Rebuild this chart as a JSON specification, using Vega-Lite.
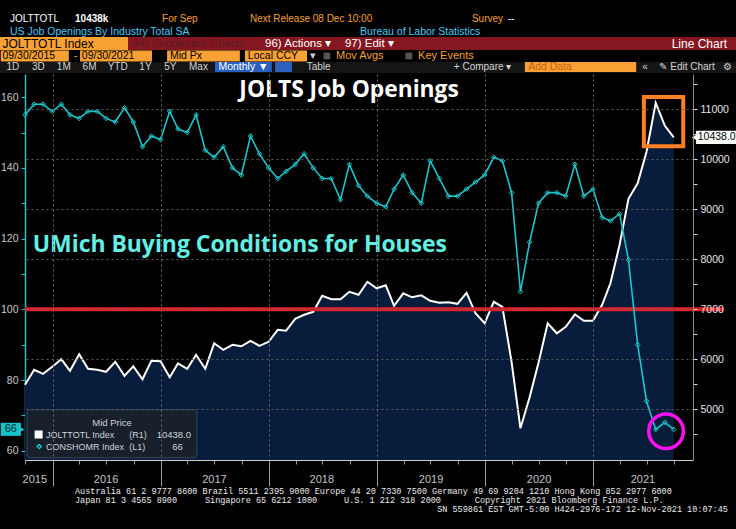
{
  "$schema": "https://vega.github.io/schema/vega-lite/v6.json",
  "width": 668,
  "height": 386,
  "autosize": {"type": "none"},
  "padding": {"left": 25, "top": 74, "right": 43, "bottom": 69},
  "background": "#000000",
  "config": {"view": {"stroke": null}, "text": {"font": "Liberation Sans"}},
  "datasets": {
    "series": [
      {"date": "2015-09-30", "umich": 155, "jolts": 5490},
      {"date": "2015-10-31", "umich": 158, "jolts": 5790},
      {"date": "2015-11-30", "umich": 158, "jolts": 5710},
      {"date": "2015-12-31", "umich": 156, "jolts": 5850},
      {"date": "2016-01-31", "umich": 158, "jolts": 6000},
      {"date": "2016-02-29", "umich": 155, "jolts": 5770},
      {"date": "2016-03-31", "umich": 154, "jolts": 6100},
      {"date": "2016-04-30", "umich": 156, "jolts": 5810},
      {"date": "2016-05-31", "umich": 156, "jolts": 5790},
      {"date": "2016-06-30", "umich": 154, "jolts": 5750},
      {"date": "2016-07-31", "umich": 153, "jolts": 5950},
      {"date": "2016-08-31", "umich": 157, "jolts": 5670},
      {"date": "2016-09-30", "umich": 153, "jolts": 5860},
      {"date": "2016-10-31", "umich": 146, "jolts": 5600},
      {"date": "2016-11-30", "umich": 149, "jolts": 5970},
      {"date": "2016-12-31", "umich": 148, "jolts": 5960},
      {"date": "2017-01-31", "umich": 156, "jolts": 5640},
      {"date": "2017-02-28", "umich": 151, "jolts": 5920},
      {"date": "2017-03-31", "umich": 150, "jolts": 5810},
      {"date": "2017-04-30", "umich": 155, "jolts": 6090},
      {"date": "2017-05-31", "umich": 145, "jolts": 5810},
      {"date": "2017-06-30", "umich": 143, "jolts": 6320},
      {"date": "2017-07-31", "umich": 146, "jolts": 6190},
      {"date": "2017-08-31", "umich": 140, "jolts": 6290},
      {"date": "2017-09-30", "umich": 138, "jolts": 6260},
      {"date": "2017-10-31", "umich": 149, "jolts": 6370},
      {"date": "2017-11-30", "umich": 144, "jolts": 6270},
      {"date": "2017-12-31", "umich": 140, "jolts": 6350},
      {"date": "2018-01-31", "umich": 137, "jolts": 6590},
      {"date": "2018-02-28", "umich": 139, "jolts": 6570},
      {"date": "2018-03-31", "umich": 141, "jolts": 6810},
      {"date": "2018-04-30", "umich": 144, "jolts": 6890},
      {"date": "2018-05-31", "umich": 140, "jolts": 6950},
      {"date": "2018-06-30", "umich": 137, "jolts": 7270},
      {"date": "2018-07-31", "umich": 137, "jolts": 7200},
      {"date": "2018-08-31", "umich": 131, "jolts": 7200},
      {"date": "2018-09-30", "umich": 141, "jolts": 7350},
      {"date": "2018-10-31", "umich": 135, "jolts": 7290},
      {"date": "2018-11-30", "umich": 132, "jolts": 7550},
      {"date": "2018-12-31", "umich": 130, "jolts": 7420},
      {"date": "2019-01-31", "umich": 129, "jolts": 7480},
      {"date": "2019-02-28", "umich": 134, "jolts": 7070},
      {"date": "2019-03-31", "umich": 138, "jolts": 7320},
      {"date": "2019-04-30", "umich": 133, "jolts": 7240},
      {"date": "2019-05-31", "umich": 130, "jolts": 7280},
      {"date": "2019-06-30", "umich": 142, "jolts": 7170},
      {"date": "2019-07-31", "umich": 137, "jolts": 7130},
      {"date": "2019-08-31", "umich": 132, "jolts": 7140},
      {"date": "2019-09-30", "umich": 132, "jolts": 7110},
      {"date": "2019-10-31", "umich": 134, "jolts": 7330},
      {"date": "2019-11-30", "umich": 136, "jolts": 6920},
      {"date": "2019-12-31", "umich": 138, "jolts": 6720},
      {"date": "2020-01-31", "umich": 143, "jolts": 7150},
      {"date": "2020-02-29", "umich": 142, "jolts": 7050},
      {"date": "2020-03-31", "umich": 133, "jolts": 5950},
      {"date": "2020-04-30", "umich": 105, "jolts": 4620},
      {"date": "2020-05-31", "umich": 119, "jolts": 5240},
      {"date": "2020-06-30", "umich": 130, "jolts": 5930},
      {"date": "2020-07-31", "umich": 133, "jolts": 6720},
      {"date": "2020-08-31", "umich": 133, "jolts": 6520},
      {"date": "2020-09-30", "umich": 132, "jolts": 6650},
      {"date": "2020-10-31", "umich": 141, "jolts": 6900},
      {"date": "2020-11-30", "umich": 132, "jolts": 6770},
      {"date": "2020-12-31", "umich": 134, "jolts": 6770},
      {"date": "2021-01-31", "umich": 126, "jolts": 7090},
      {"date": "2021-02-28", "umich": 125, "jolts": 7520},
      {"date": "2021-03-31", "umich": 127, "jolts": 8290},
      {"date": "2021-04-30", "umich": 114, "jolts": 9210},
      {"date": "2021-05-31", "umich": 90, "jolts": 9520},
      {"date": "2021-06-30", "umich": 74, "jolts": 10150},
      {"date": "2021-07-31", "umich": 66, "jolts": 11130},
      {"date": "2021-08-31", "umich": 68, "jolts": 10670},
      {"date": "2021-09-30", "umich": 66, "jolts": 10438}
    ]
  },
  "encoding": {
    "x": {
      "field": "date",
      "type": "temporal",
      "title": null,
      "scale": {
        "type": "utc",
        "domain": [
          {"year": 2015, "month": 9, "date": 30, "utc": true},
          {"year": 2021, "month": 12, "date": 4, "utc": true}
        ]
      },
      "axis": {
        "orient": "bottom",
        "values": [
          {"year": 2015, "month": 10, "date": 1, "utc": true},
          {"year": 2016, "month": 1, "date": 1, "utc": true},
          {"year": 2016, "month": 4, "date": 1, "utc": true},
          {"year": 2016, "month": 7, "date": 1, "utc": true},
          {"year": 2016, "month": 10, "date": 1, "utc": true},
          {"year": 2017, "month": 1, "date": 1, "utc": true},
          {"year": 2017, "month": 4, "date": 1, "utc": true},
          {"year": 2017, "month": 7, "date": 1, "utc": true},
          {"year": 2017, "month": 10, "date": 1, "utc": true},
          {"year": 2018, "month": 1, "date": 1, "utc": true},
          {"year": 2018, "month": 4, "date": 1, "utc": true},
          {"year": 2018, "month": 7, "date": 1, "utc": true},
          {"year": 2018, "month": 10, "date": 1, "utc": true},
          {"year": 2019, "month": 1, "date": 1, "utc": true},
          {"year": 2019, "month": 4, "date": 1, "utc": true},
          {"year": 2019, "month": 7, "date": 1, "utc": true},
          {"year": 2019, "month": 10, "date": 1, "utc": true},
          {"year": 2020, "month": 1, "date": 1, "utc": true},
          {"year": 2020, "month": 4, "date": 1, "utc": true},
          {"year": 2020, "month": 7, "date": 1, "utc": true},
          {"year": 2020, "month": 10, "date": 1, "utc": true},
          {"year": 2021, "month": 1, "date": 1, "utc": true},
          {"year": 2021, "month": 4, "date": 1, "utc": true},
          {"year": 2021, "month": 7, "date": 1, "utc": true},
          {"year": 2021, "month": 10, "date": 1, "utc": true}
        ],
        "labels": false,
        "domainColor": "#cfcfcf",
        "domainWidth": 1,
        "tickColor": "#9a9a9a",
        "tickSize": {"condition": {"test": "utcmonth(datum.value) == 0", "value": 26}, "value": 4},
        "grid": true,
        "gridColor": "#6a6a6a",
        "gridDash": [2, 3],
        "gridOpacity": {"condition": {"test": "utcmonth(datum.value) == 0", "value": 1}, "value": 0},
        "zindex": 1
      }
    }
  },
  "layer": [
    {
      "encoding": {
        "y": {
          "field": "jolts",
          "type": "quantitative",
          "title": null,
          "scale": {"domain": [3986, 11706]},
          "axis": {
            "orient": "right",
            "values": [4500, 5000, 5500, 6000, 6500, 7000, 7500, 8000, 8500, 9000, 9500, 10000, 10500, 11000, 11500],
            "format": "d",
            "labelExpr": "datum.value % 1000 == 0 ? datum.label : ''",
            "domainColor": "#8c8c8c",
            "tickColor": "#d8d8d8",
            "tickSize": 4,
            "labelColor": "#e6e6e6",
            "labelFont": "Liberation Sans",
            "labelFontSize": 10.5,
            "labelPadding": 3,
            "grid": true,
            "gridColor": "#5c5c5c",
            "gridDash": [2, 3],
            "gridOpacity": {"condition": {"test": "datum.value % 1000 == 0", "value": 1}, "value": 0},
            "zindex": 1
          }
        }
      },
      "layer": [
        {
          "data": {"name": "series"},
          "mark": {"type": "area", "color": "#081d3b", "opacity": 1},
          "encoding": {"y2": {"datum": 3986}}
        },
        {
          "data": {"name": "series"},
          "mark": {"type": "line", "color": "#ffffff", "strokeWidth": 2}
        },
        {
          "data": {"values": [{"date": "2021-06-21", "date2": "2021-11-01", "jolts": 10260, "jolts2": 11246}]},
          "mark": {"type": "rect", "fillOpacity": 0, "stroke": "#ff7f24", "strokeWidth": 4},
          "encoding": {"x2": {"field": "date2"}, "y2": {"field": "jolts2"}}
        },
        {
          "data": {"values": [{"date": "2021-12-14", "date2": "2022-05-02", "jolts": 10306, "jolts2": 10570}]},
          "mark": {"type": "rect", "color": "#ffffff"},
          "encoding": {"x2": {"field": "date2"}, "y2": {"field": "jolts2"}}
        },
        {
          "data": {"values": [{"date": "2021-12-09", "jolts": 10438}]},
          "mark": {"type": "point", "shape": "triangle-left", "filled": true, "color": "#ffffff", "size": 40, "opacity": 1}
        },
        {
          "data": {"values": [{"date": "2021-12-20", "jolts": 10438, "label": "10438.0"}]},
          "mark": {"type": "text", "align": "left", "baseline": "middle", "color": "#000000", "fontSize": 10.5},
          "encoding": {"text": {"field": "label"}}
        },
        {
          "data": {"values": [{"date": "2018-09-29", "jolts": 11250, "label": "JOLTS Job Openings"}]},
          "mark": {"type": "text", "align": "center", "baseline": "alphabetic", "color": "#ffffff", "font": "Open Sans", "fontWeight": "bold", "fontSize": 22.8},
          "encoding": {"text": {"field": "label"}}
        },
        {
          "data": {"values": [
            {"date": "2015-07-04", "date2": "2022-05-02", "jolts": 11946, "jolts2": 11726}
          ]},
          "mark": {"type": "rect", "color": "#151515"},
          "encoding": {"x2": {"field": "date2"}, "y2": {"field": "jolts2"}}
        },
        {
          "data": {"values": [
            {"date": "2015-07-04", "date2": "2022-05-02", "jolts": 12446, "jolts2": 12186}
          ]},
          "mark": {"type": "rect", "color": "#851720"},
          "encoding": {"x2": {"field": "date2"}, "y2": {"field": "jolts2"}}
        },
        {
          "data": {"values": [
            {"date": "2015-07-06", "date2": "2016-09-12", "jolts": 12446, "jolts2": 12186},
            {"date": "2015-07-10", "date2": "2016-02-25", "jolts": 12176, "jolts2": 11956},
            {"date": "2016-04-03", "date2": "2016-12-02", "jolts": 12176, "jolts2": 11956},
            {"date": "2017-01-22", "date2": "2017-09-25", "jolts": 12176, "jolts2": 11956},
            {"date": "2017-10-12", "date2": "2018-05-10", "jolts": 12176, "jolts2": 11956},
            {"date": "2020-05-15", "date2": "2021-05-26", "jolts": 11946, "jolts2": 11746}
          ]},
          "mark": {"type": "rect", "color": "#f7a034"},
          "encoding": {"x2": {"field": "date2"}, "y2": {"field": "jolts2"}}
        },
        {
          "data": {"values": [
            {"date": "2017-07-03", "date2": "2018-01-11", "jolts": 11946, "jolts2": 11746},
            {"date": "2018-01-22", "date2": "2018-03-20", "jolts": 11946, "jolts2": 11746}
          ]},
          "mark": {"type": "rect", "color": "#2b5fc0"},
          "encoding": {"x2": {"field": "date2"}, "y2": {"field": "jolts2"}}
        },
        {
          "data": {"values": [
            {"date": "2018-07-16", "jolts": 12066},
            {"date": "2019-04-19", "jolts": 12066}
          ]},
          "mark": {"type": "point", "shape": "square", "filled": true, "color": "#555555", "size": 45, "opacity": 1}
        },
        {
          "data": {"values": [
            {"date": "2015-08-10", "jolts": 12816, "label": "JOLTTOTL"},
            {"date": "2020-03-18", "jolts": 12816, "label": "--"}
          ]},
          "mark": {"type": "text", "align": "left", "baseline": "middle", "color": "#ffffff", "fontSize": 10},
          "encoding": {"text": {"field": "label"}}
        },
        {
          "data": {"values": [
            {"date": "2016-03-17", "jolts": 12816, "label": "10438k"}
          ]},
          "mark": {"type": "text", "align": "left", "baseline": "middle", "color": "#ffffff", "fontSize": 10, "fontWeight": "bold"},
          "encoding": {"text": {"field": "label"}}
        },
        {
          "data": {"values": [
            {"date": "2017-01-05", "jolts": 12816, "label": "For Sep"},
            {"date": "2017-10-29", "jolts": 12816, "label": "Next Release 08 Dec 10:00"},
            {"date": "2019-11-18", "jolts": 12816, "label": "Survey"}
          ]},
          "mark": {"type": "text", "align": "left", "baseline": "middle", "color": "#f7a030", "fontSize": 10},
          "encoding": {"text": {"field": "label"}}
        },
        {
          "data": {"values": [
            {"date": "2015-08-10", "jolts": 12546, "label": "US Job Openings By Industry Total SA"},
            {"date": "2018-11-05", "jolts": 12546, "label": "Bureau of Labor Statistics"}
          ]},
          "mark": {"type": "text", "align": "left", "baseline": "middle", "color": "#4ec8f4", "fontSize": 10.5},
          "encoding": {"text": {"field": "label"}}
        },
        {
          "data": {"values": [
            {"date": "2015-07-16", "jolts": 12316, "label": "JOLTTOTL Index"}
          ]},
          "mark": {"type": "text", "align": "left", "baseline": "middle", "color": "#000000", "fontSize": 12},
          "encoding": {"text": {"field": "label"}}
        },
        {
          "data": {"values": [
            {"date": "2016-09-25", "jolts": 12316, "label": "94) Suggested Charts"}
          ]},
          "mark": {"type": "text", "align": "left", "baseline": "middle", "color": "#5a1a22", "fontSize": 11.5},
          "encoding": {"text": {"field": "label"}}
        },
        {
          "data": {"values": [
            {"date": "2017-12-19", "jolts": 12316, "label": "96) Actions ▾"},
            {"date": "2018-09-15", "jolts": 12316, "label": "97) Edit ▾"}
          ]},
          "mark": {"type": "text", "align": "left", "baseline": "middle", "color": "#ffffff", "fontSize": 11.5},
          "encoding": {"text": {"field": "label"}}
        },
        {
          "data": {"values": [
            {"date": "2022-03-29", "jolts": 12316, "label": "Line Chart"}
          ]},
          "mark": {"type": "text", "align": "right", "baseline": "middle", "color": "#ffffff", "fontSize": 12},
          "encoding": {"text": {"field": "label"}}
        },
        {
          "data": {"values": [
            {"date": "2015-07-16", "jolts": 12060, "label": "09/30/2015"},
            {"date": "2016-04-09", "jolts": 12060, "label": "09/30/2021"},
            {"date": "2017-02-01", "jolts": 12060, "label": "Mid Px"},
            {"date": "2017-10-22", "jolts": 12060, "label": "Local CCY"}
          ]},
          "mark": {"type": "text", "align": "left", "baseline": "middle", "color": "#000000", "fontSize": 10.5},
          "encoding": {"text": {"field": "label"}}
        },
        {
          "data": {"values": [
            {"date": "2016-03-13", "jolts": 12060, "label": "-"},
            {"date": "2018-08-16", "jolts": 12060, "label": "Mov Avgs"},
            {"date": "2019-05-20", "jolts": 12060, "label": "Key Events"}
          ]},
          "mark": {"type": "text", "align": "left", "baseline": "middle", "color": "#f7a030", "fontSize": 11},
          "encoding": {"text": {"field": "label"}}
        },
        {
          "data": {"values": [
            {"date": "2018-05-20", "jolts": 12060, "label": "▾"}
          ]},
          "mark": {"type": "text", "align": "left", "baseline": "middle", "color": "#cccccc", "fontSize": 10.5},
          "encoding": {"text": {"field": "label"}}
        },
        {
          "data": {"values": [
            {"date": "2015-08-20", "jolts": 11840, "label": "1D"},
            {"date": "2015-11-14", "jolts": 11840, "label": "3D"},
            {"date": "2016-02-08", "jolts": 11840, "label": "1M"},
            {"date": "2016-05-05", "jolts": 11840, "label": "6M"},
            {"date": "2016-08-08", "jolts": 11840, "label": "YTD"},
            {"date": "2016-11-10", "jolts": 11840, "label": "1Y"},
            {"date": "2017-02-02", "jolts": 11840, "label": "5Y"},
            {"date": "2017-05-08", "jolts": 11840, "label": "Max"},
            {"date": "2018-06-18", "jolts": 11840, "label": "Table"},
            {"date": "2019-12-24", "jolts": 11840, "label": "+ Compare ▾"},
            {"date": "2021-06-25", "jolts": 11840, "label": "«"},
            {"date": "2021-11-14", "jolts": 11840, "label": "✎ Edit Chart"},
            {"date": "2022-04-01", "jolts": 11840, "label": "⚙"}
          ]},
          "mark": {"type": "text", "align": "center", "baseline": "middle", "color": "#d4d4d4", "fontSize": 10},
          "encoding": {"text": {"field": "label"}}
        },
        {
          "data": {"values": [
            {"date": "2017-10-07", "jolts": 11840, "label": "Monthly ▼"}
          ]},
          "mark": {"type": "text", "align": "center", "baseline": "middle", "color": "#ffffff", "fontSize": 10.5},
          "encoding": {"text": {"field": "label"}}
        },
        {
          "data": {"values": [
            {"date": "2020-05-26", "jolts": 11840, "label": "Add Data"}
          ]},
          "mark": {"type": "text", "align": "left", "baseline": "middle", "color": "#c8620e", "fontSize": 10.5},
          "encoding": {"text": {"field": "label"}}
        },
        {
          "data": {"values": [
            {"date": "2015-11-02", "jolts": 3586, "label": "2015"},
            {"date": "2016-06-30", "jolts": 3586, "label": "2016"},
            {"date": "2017-07-01", "jolts": 3586, "label": "2017"},
            {"date": "2018-06-29", "jolts": 3586, "label": "2018"},
            {"date": "2019-07-03", "jolts": 3586, "label": "2019"},
            {"date": "2020-07-02", "jolts": 3586, "label": "2020"},
            {"date": "2021-06-18", "jolts": 3586, "label": "2021"}
          ]},
          "mark": {"type": "text", "align": "center", "baseline": "middle", "color": "#c4c4c4", "fontSize": 11},
          "encoding": {"text": {"field": "label"}}
        },
        {
          "data": {"values": [
            {"date": "2016-03-17", "jolts": 3366, "label": "Australia 61 2 9777 8600 Brazil 5511 2395 9000 Europe 44 20 7330 7500 Germany 49 69 9204 1210 Hong Kong 852 2977 6000"},
            {"date": "2016-03-17", "jolts": 3186, "label": "Japan 81 3 4565 8900"},
            {"date": "2017-05-30", "jolts": 3186, "label": "Singapore 65 6212 1000"},
            {"date": "2018-09-12", "jolts": 3186, "label": "U.S. 1 212 318 2000"},
            {"date": "2019-11-28", "jolts": 3186, "label": "Copyright 2021 Bloomberg Finance L.P."}
          ]},
          "mark": {"type": "text", "align": "left", "baseline": "middle", "color": "#ececec", "font": "Liberation Mono", "fontSize": 8.5},
          "encoding": {"text": {"field": "label"}}
        },
        {
          "data": {"values": [
            {"date": "2022-04-01", "jolts": 3016, "label": "SN 559861 EST  GMT-5:00 H424-2976-172 12-Nov-2021 10:07:45"}
          ]},
          "mark": {"type": "text", "align": "right", "baseline": "middle", "color": "#ececec", "font": "Liberation Mono", "fontSize": 8.5},
          "encoding": {"text": {"field": "label"}}
        }
      ]
    },
    {
      "encoding": {
        "y": {
          "field": "umich",
          "type": "quantitative",
          "title": null,
          "scale": {"domain": [57.37, 166.56]},
          "axis": {
            "orient": "left",
            "values": [60, 70, 80, 90, 100, 110, 120, 130, 140, 150, 160],
            "labelExpr": "datum.value % 20 == 0 ? datum.label : ''",
            "domainColor": "#19c3cb",
            "domainWidth": 1.5,
            "tickColor": "#19c3cb",
            "tickSize": 4,
            "labelColor": "#c8c8c8",
            "labelFont": "Liberation Sans",
            "labelFontSize": 10.5,
            "labelPadding": 3,
            "grid": false
          }
        }
      },
      "layer": [
        {
          "data": {"values": [{"date": "2015-10-07", "date2": "2017-05-03", "umich": 58.0, "umich2": 71.6}]},
          "mark": {"type": "rect", "fill": "#18202c", "stroke": "#3b4655", "strokeWidth": 1, "cornerRadius": 3},
          "encoding": {"x2": {"field": "date2"}, "y2": {"field": "umich2"}}
        },
        {
          "data": {"values": [{"date": "2015-09-30", "date2": "2022-03-16", "umich": 100}]},
          "mark": {"type": "rule", "color": "#e3212b", "strokeWidth": 4},
          "encoding": {"x2": {"field": "date2"}}
        },
        {
          "data": {"name": "series"},
          "mark": {"type": "line", "color": "#1cc6cc", "strokeWidth": 1.6, "point": {"shape": "diamond", "filled": false, "size": 22, "strokeWidth": 1, "color": "#1cc6cc"}}
        },
        {
          "data": {"values": [{"date": "2021-09-04", "umich": 65.5}]},
          "mark": {"type": "point", "shape": "circle", "filled": false, "color": "#ff10f0", "strokeWidth": 3.5, "size": 1200, "opacity": 1}
        },
        {
          "data": {"values": [{"date": "2017-09-25", "umich": 116.1, "label": "UMich Buying Conditions for Houses"}]},
          "mark": {"type": "text", "align": "center", "baseline": "alphabetic", "color": "#62f0e4", "font": "Open Sans", "fontWeight": "bold", "fontSize": 22.9},
          "encoding": {"text": {"field": "label"}}
        },
        {
          "data": {"values": [{"date": "2016-07-20", "umich": 67.8, "label": "Mid Price"}]},
          "mark": {"type": "text", "align": "center", "baseline": "middle", "color": "#cfd3d8", "fontSize": 9.5},
          "encoding": {"text": {"field": "label"}}
        },
        {
          "data": {"values": [
            {"date": "2015-12-10", "umich": 64.45, "label": "JOLTTOTL Index"},
            {"date": "2016-09-16", "umich": 64.45, "label": "(R1)"},
            {"date": "2015-12-10", "umich": 61.13, "label": "CONSHOMR Index"},
            {"date": "2016-09-16", "umich": 61.13, "label": "(L1)"}
          ]},
          "mark": {"type": "text", "align": "left", "baseline": "middle", "color": "#cfd3d8", "fontSize": 9},
          "encoding": {"text": {"field": "label"}}
        },
        {
          "data": {"values": [
            {"date": "2017-02-14", "umich": 64.45, "label": "10438.0"},
            {"date": "2017-02-26", "umich": 61.13, "label": "66"}
          ]},
          "mark": {"type": "text", "align": "center", "baseline": "middle", "color": "#cfd3d8", "fontSize": 9.5},
          "encoding": {"text": {"field": "label"}}
        },
        {
          "data": {"values": [{"date": "2015-11-15", "umich": 64.58}]},
          "mark": {"type": "point", "shape": "square", "filled": true, "color": "#ffffff", "size": 64, "opacity": 1}
        },
        {
          "data": {"values": [{"date": "2015-11-17", "umich": 61.2}]},
          "mark": {"type": "point", "shape": "diamond", "filled": false, "color": "#1cc6cc", "size": 20, "strokeWidth": 1.2, "opacity": 1}
        },
        {
          "data": {"values": [{"date": "2015-07-10", "date2": "2015-09-16", "umich": 64.2, "umich2": 67.9}]},
          "mark": {"type": "rect", "color": "#14c4c8"},
          "encoding": {"x2": {"field": "date2"}, "y2": {"field": "umich2"}}
        },
        {
          "data": {"values": [{"date": "2015-09-19", "umich": 66}]},
          "mark": {"type": "point", "shape": "triangle-right", "filled": true, "color": "#14c4c8", "size": 40, "opacity": 1}
        },
        {
          "data": {"values": [{"date": "2015-08-13", "umich": 66, "label": "66"}]},
          "mark": {"type": "text", "align": "center", "baseline": "middle", "color": "#07232b", "fontSize": 11},
          "encoding": {"text": {"field": "label"}}
        }
      ]
    }
  ],
  "resolve": {"scale": {"y": "independent"}}
}
